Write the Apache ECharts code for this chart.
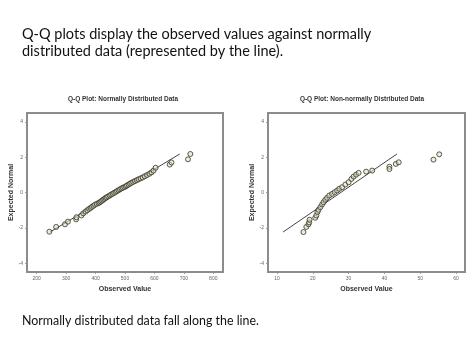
<!DOCTYPE html>
<html>
<head>
<meta charset="utf-8">
<script src="https://cdn.jsdelivr.net/npm/echarts@6/dist/echarts.min.js"></script>
<style>
html,body{margin:0;padding:0;background:#fff;}
#c{width:474px;height:355px;}
</style>
</head>
<body>
<div id="c"></div>
<script>
// Left panel: normally distributed data
var normObserved = [243,266,296,306,334,335,352,358,366,372,378,383,388,393,398,404,410,414,418,422,426,430,434,438,443,448,453,458,463,468,473,478,483,488,493,498,503,507,512,517,522,528,534,540,546,553,560,567,575,583,590,597,604,652,658,714,722];
var normExpected = [-2.22,-1.95,-1.80,-1.65,-1.52,-1.40,-1.30,-1.18,-1.08,-1.00,-0.93,-0.87,-0.81,-0.75,-0.69,-0.64,-0.60,-0.56,-0.51,-0.46,-0.41,-0.36,-0.31,-0.27,-0.22,-0.17,-0.12,-0.07,-0.02,0.03,0.08,0.13,0.18,0.23,0.27,0.31,0.35,0.40,0.45,0.50,0.55,0.60,0.65,0.70,0.75,0.80,0.85,0.92,0.99,1.06,1.14,1.24,1.40,1.58,1.70,1.88,2.18];
var normLineX = [245,686];
var normLineY = [-2.24,2.18];
var normXTicks = [200,300,400,500,600,700,800];

// Right panel: non-normally distributed data
var skewObserved = [17.4,18.2,18.8,19.0,19.1,20.7,21.0,21.3,21.6,22.1,22.6,23.0,23.5,24.0,24.6,25.4,26.1,26.8,27.4,28.2,29.1,30.0,30.8,31.4,32.1,32.8,34.9,36.6,41.4,41.4,43.2,44.0,53.7,55.3];
var skewExpected = [-2.24,-1.95,-1.80,-1.69,-1.54,-1.43,-1.30,-1.11,-0.98,-0.83,-0.68,-0.55,-0.41,-0.30,-0.17,-0.08,0.02,0.11,0.21,0.30,0.45,0.58,0.77,0.90,1.01,1.11,1.18,1.24,1.46,1.33,1.62,1.71,1.86,2.16];
var skewLineX = [11.7,43.5];
var skewLineY = [-2.24,2.18];
var skewXTicks = [10,20,30,40,50,60];

var yTicks = [-4,-2,0,2,4];

var titleText1 = 'Q-Q plots display the observed values against normally';
var titleText2 = 'distributed data (represented by the line).';
var footText = 'Normally distributed data fall along the line.';
var panelTitles = ['Q-Q Plot: Normally Distributed Data','Q-Q Plot: Non-normally Distributed Data'];

function zip(a,b){return a.map(function(v,i){return [v,b[i]];});}

var grids = [
  {left:27, top:113, width:196, height:159, show:true, borderColor:'#8c8c8c', borderWidth:2, backgroundColor:'#fff'},
  {left:268, top:113, width:197, height:159, show:true, borderColor:'#8c8c8c', borderWidth:2, backgroundColor:'#fff'}
];

function xAx(idx, min, max, ticks){
  return {type:'value', gridIndex:idx, min:min, max:max, name:'Observed Value', nameLocation:'middle', nameGap:14,
    nameTextStyle:{fontFamily:'Liberation Sans', fontWeight:'bold', fontSize:7, color:'#333'},
    axisLine:{show:false, onZero:false}, splitLine:{show:false},
    axisTick:{show:true, length:2, lineStyle:{color:'#888', width:0.8}, customValues:ticks},
    axisLabel:{fontSize:5, color:'#666', margin:4, fontFamily:'Liberation Sans', customValues:ticks}};
}
function yAx(idx){
  return {type:'value', gridIndex:idx, min:-4.5, max:4.5, name:'Expected Normal', nameLocation:'middle', nameGap:12,
    nameTextStyle:{fontFamily:'Liberation Sans', fontWeight:'bold', fontSize:7, color:'#333'},
    axisLine:{show:false, onZero:false}, splitLine:{show:false},
    axisTick:{show:true, length:2, lineStyle:{color:'#888', width:0.8}, customValues:yTicks},
    axisLabel:{fontSize:5, color:'#666', margin:4, fontFamily:'Liberation Sans', customValues:yTicks}};
}

var pointStyle = {color:'rgba(225,222,190,0.7)', borderColor:'#333328', borderWidth:1};

var chart = echarts.init(document.getElementById('c'), null, {renderer:'canvas'});
chart.setOption({
  animation:false,
  backgroundColor:'#fff',
  title:[
    {text:panelTitles[0], left:118, top:91, textAlign:'center', textStyle:{fontFamily:'Liberation Sans', fontWeight:'bold', fontSize:6.5, color:'#333'}},
    {text:panelTitles[1], left:357, top:91, textAlign:'center', textStyle:{fontFamily:'Liberation Sans', fontWeight:'bold', fontSize:6.5, color:'#333'}}
  ],
  graphic:[
    {type:'text', left:22, top:27, style:{text:titleText1, font:'14.5px Lato', fill:'#111'}},
    {type:'text', left:22, top:44, style:{text:titleText2, font:'14.5px Lato', fill:'#111'}},
    {type:'text', left:22, top:315, style:{text:footText, font:'12.4px Lato', fill:'#111'}}
  ],
  grid:grids,
  xAxis:[xAx(0,167,833,normXTicks), xAx(1,7.5,62.5,skewXTicks)],
  yAxis:[yAx(0), yAx(1)],
  series:[
    {type:'line', xAxisIndex:0, yAxisIndex:0, data:zip(normLineX,normLineY), symbol:'none', lineStyle:{color:'#444', width:1}, z:2},
    {type:'scatter', xAxisIndex:0, yAxisIndex:0, data:zip(normObserved,normExpected), symbol:'circle', symbolSize:5, itemStyle:pointStyle, z:3},
    {type:'line', xAxisIndex:1, yAxisIndex:1, data:zip(skewLineX,skewLineY), symbol:'none', lineStyle:{color:'#444', width:1}, z:2},
    {type:'scatter', xAxisIndex:1, yAxisIndex:1, data:zip(skewObserved,skewExpected), symbol:'circle', symbolSize:5, itemStyle:pointStyle, z:3}
  ]
});
</script>
</body>
</html>
